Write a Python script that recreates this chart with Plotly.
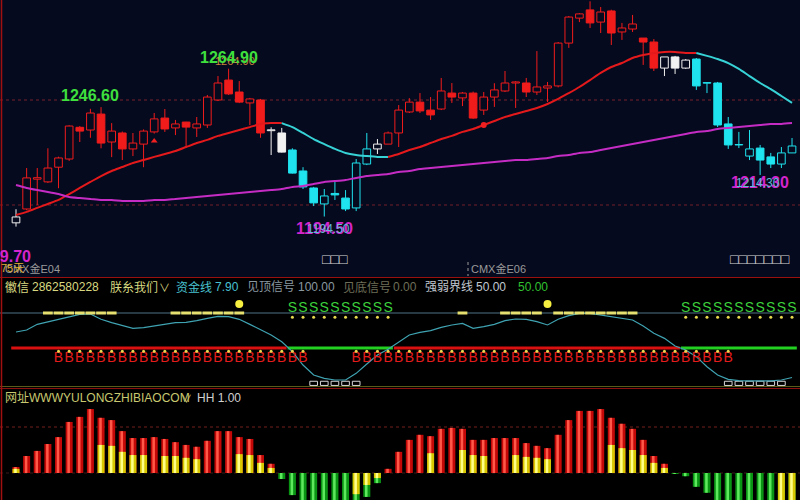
import plotly.graph_objects as go

# ---------------- daily bars ----------------
opens = [1191.5, 1198.1, 1212.3, 1211.0, 1218.0, 1221.9, 1237.0, 1235.7, 1243.3, 1230.0,
         1234.3, 1226.7, 1229.0, 1234.8, 1241.4, 1236.7, 1239.5, 1236.7, 1238.1, 1250.0,
         1259.5, 1253.8, 1248.6, 1250.0, 1235.4, 1234.3, 1226.2, 1216.2, 1208.1, 1200.5,
         1205.5, 1203.3, 1198.6, 1219.5, 1226.7, 1229.0, 1234.3, 1244.3, 1249.0, 1245.2,
         1245.7, 1253.3, 1251.0, 1253.3, 1245.2, 1251.4, 1254.3, 1258.1, 1258.1, 1253.8,
         1255.7, 1256.7, 1277.1, 1289.0, 1292.9, 1287.1, 1292.4, 1282.4, 1283.8, 1279.5,
         1277.6, 1265.2, 1270.5, 1265.2, 1269.5, 1258.0, 1258.1, 1238.6, 1228.6, 1223.3,
         1227.1, 1222.9, 1219.5, 1224.8]
highs = [1198.0, 1217.6, 1217.6, 1227.0, 1223.0, 1238.0, 1237.6, 1245.8, 1246.6, 1239.0,
         1235.0, 1234.3, 1236.0, 1243.8, 1245.7, 1240.5, 1239.6, 1241.9, 1252.4, 1261.4,
         1264.9, 1259.0, 1251.0, 1250.5, 1237.0, 1236.7, 1227.0, 1218.0, 1208.6, 1207.6,
         1211.0, 1207.1, 1221.9, 1234.3, 1231.4, 1235.0, 1247.6, 1250.9, 1253.3, 1251.4,
         1260.5, 1258.1, 1253.8, 1254.0, 1253.8, 1258.0, 1263.8, 1259.0, 1260.5, 1273.3,
         1258.6, 1277.6, 1290.0, 1291.4, 1297.0, 1294.3, 1293.0, 1286.7, 1290.5, 1279.5,
         1279.0, 1270.5, 1271.0, 1269.5, 1270.0, 1258.3, 1258.6, 1241.9, 1234.8, 1235.7,
         1228.6, 1224.8, 1227.6, 1231.9]
lows = [1189.7, 1197.5, 1200.0, 1210.5, 1208.0, 1221.0, 1230.0, 1232.0, 1227.0, 1222.8,
        1221.4, 1223.3, 1218.0, 1234.0, 1234.8, 1233.3, 1227.6, 1232.4, 1236.7, 1249.5,
        1252.4, 1248.5, 1238.0, 1232.0, 1223.8, 1225.0, 1215.0, 1207.6, 1199.5, 1194.5,
        1202.4, 1197.1, 1197.1, 1219.0, 1224.3, 1229.0, 1227.6, 1243.8, 1243.8, 1240.5,
        1245.2, 1248.6, 1247.1, 1241.0, 1242.9, 1246.7, 1253.8, 1246.2, 1251.4, 1252.4,
        1249.0, 1256.0, 1274.8, 1287.1, 1284.3, 1281.9, 1276.2, 1278.6, 1282.4, 1266.7,
        1263.8, 1261.4, 1262.4, 1264.8, 1254.8, 1253.3, 1237.1, 1226.7, 1227.1, 1221.4,
        1214.3, 1217.6, 1217.6, 1224.8]
closes = [1194.3, 1212.9, 1213.0, 1217.6, 1222.4, 1237.6, 1235.2, 1243.8, 1229.5, 1235.2,
          1226.7, 1229.5, 1235.2, 1241.0, 1236.2, 1238.6, 1237.1, 1238.6, 1251.4, 1258.1,
          1252.9, 1249.0, 1250.5, 1234.3, 1235.8, 1225.2, 1215.2, 1208.6, 1201.0, 1204.3,
          1204.8, 1198.1, 1220.0, 1226.7, 1229.0, 1234.3, 1245.2, 1249.0, 1244.8, 1242.9,
          1254.3, 1251.4, 1253.3, 1241.4, 1251.4, 1254.8, 1258.1, 1258.6, 1253.8, 1256.2,
          1256.7, 1277.1, 1289.5, 1291.0, 1286.7, 1291.9, 1281.9, 1284.3, 1286.2, 1277.6,
          1265.2, 1270.5, 1265.2, 1269.0, 1256.7, 1258.3, 1238.1, 1228.6, 1228.8, 1226.7,
          1221.4, 1219.5, 1224.8, 1228.1]
# bar colouring state: R = bull trend, W = neutral, C = bear trend
tones = ("W" "RRRRRRRRRRRRRRRRRRRRRRR" "WW" "CCCCCCCC" "W"
         "RRRRRRRRRRRRRRRRRRRRRRRRRR" "WWW" "CCCCCCCCCC")

ma_short = [1195.2, 1196.7, 1198.6, 1200.5, 1202.4, 1205.2, 1208.1, 1211.0, 1213.8, 1216.2,
            1218.1, 1220.0, 1221.4, 1222.9, 1224.3, 1225.7, 1227.6, 1229.5, 1231.0, 1232.9,
            1234.3, 1235.7, 1237.1, 1238.6, 1239.0, 1239.0, 1237.1, 1234.3, 1231.4, 1229.0,
            1226.7, 1224.8, 1223.8, 1223.3, 1222.9, 1222.9, 1224.3, 1226.2, 1227.6, 1229.5,
            1231.4, 1232.9, 1234.8, 1236.2, 1238.1, 1240.0, 1241.9, 1243.3, 1244.8, 1246.2,
            1248.1, 1250.5, 1253.3, 1256.2, 1259.5, 1262.9, 1265.7, 1267.6, 1270.0, 1271.4,
            1272.4, 1272.9, 1272.9, 1272.4, 1272.4, 1271.0, 1269.5, 1267.6, 1264.8, 1261.4,
            1258.1, 1255.2, 1251.9, 1248.6]
ma_short_up = ("1111111111111111111111111" "0000000000"
               "11111111111111111111111111111" "0000000000")
ma_long = [1209.5, 1208.1, 1207.1, 1206.2, 1205.2, 1203.8, 1203.3, 1202.9, 1202.4, 1202.4,
           1201.9, 1201.9, 1201.9, 1202.4, 1202.4, 1202.9, 1203.3, 1203.8, 1204.3, 1204.8,
           1205.2, 1205.7, 1206.2, 1206.7, 1207.1, 1207.6, 1208.6, 1209.0, 1210.0, 1211.0,
           1211.4, 1211.9, 1212.9, 1213.8, 1214.3, 1214.8, 1215.7, 1216.2, 1217.1, 1217.6,
           1218.1, 1218.6, 1219.0, 1219.5, 1220.0, 1220.5, 1221.0, 1221.4, 1221.4, 1221.9,
           1222.4, 1223.3, 1223.8, 1224.8, 1225.2, 1226.2, 1227.1, 1228.1, 1229.0, 1230.0,
           1231.0, 1231.9, 1232.9, 1233.8, 1234.8, 1235.2, 1236.2, 1236.7, 1237.1, 1237.6,
           1238.1, 1238.6, 1238.6, 1239.0]

# ---------------- money-flow panel ----------------
money_line = [72.9, 75.7, 83.8, 87.6, 91.4, 94.8, 98.1, 98.6, 91.0, 86.2,
              81.9, 78.1, 79.0, 81.4, 84.8, 86.2, 86.7, 89.0, 92.4, 95.2,
              94.8, 91.0, 83.8, 75.7, 68.6, 59.0, 44.8, 25.7, 11.4, 6.7,
              4.3, 4.3, 13.8, 27.1, 40.0, 48.1, 59.0, 68.6, 72.4, 74.8,
              79.5, 82.9, 85.2, 78.1, 80.5, 83.8, 89.0, 91.4, 91.0, 87.6,
              82.9, 91.0, 96.2, 99.5, 99.5, 97.1, 94.8, 92.4, 90.0, 81.4,
              71.0, 63.8, 52.9, 47.1, 37.6, 23.3, 11.4, 5.2, 3.3, 2.9,
              2.9, 2.9, 4.3, 7.9]
strong_flags = ("11111111111111111111111111" "0000000000"
                "111111111111111111111111111" "00000000000")
top_level, mid_level, bottom_level = 100.0, 50.0, 0.0
top_signal_idx = [3, 4, 5, 6, 7, 8, 9, 15, 16, 17, 18, 19, 20, 21, 42,
                  46, 47, 48, 49, 51, 52, 53, 54, 55, 56, 57, 58]
top_dot_idx = [21, 50]
sell_idx = [26, 27, 28, 29, 30, 31, 32, 33, 34, 35,
            63, 64, 65, 66, 67, 68, 69, 70, 71, 72, 73]
buy_idx = [4, 5, 6, 7, 8, 9, 10, 11, 12, 13, 14, 15, 16, 17, 18, 19, 20, 21, 22, 23, 24, 25, 26, 27,
           32, 33, 34, 35, 36, 37, 38, 39, 40, 41, 42, 43, 44, 45, 46, 47, 48, 49, 50, 51,
           52, 53, 54, 55, 56, 57, 58, 59, 60, 61, 62, 63, 64, 65, 66, 67]
bottom_idx = [28, 29, 30, 31, 32, 67, 68, 69, 70, 71, 72]

# ---------------- HH histogram ----------------
hh_ref = 1.0
hh = [0.13, 0.37, 0.48, 0.63, 0.78, 1.11, 1.22, 1.39, 1.20, 1.15,
      0.91, 0.76, 0.76, 0.78, 0.74, 0.67, 0.61, 0.57, 0.70, 0.91,
      0.91, 0.78, 0.74, 0.39, 0.20, -0.13, -0.48, -0.72, -0.80, -0.84,
      -0.82, -0.76, -0.66, -0.52, -0.22, 0.09, 0.46, 0.72, 0.83, 0.80,
      0.96, 0.98, 0.96, 0.72, 0.72, 0.76, 0.76, 0.76, 0.65, 0.59,
      0.54, 0.83, 1.15, 1.35, 1.35, 1.39, 1.20, 1.07, 0.96, 0.72,
      0.37, 0.20, -0.02, -0.07, -0.30, -0.43, -0.68, -0.75, -0.80, -0.82,
      -0.80, -0.76, -0.72, -0.70]
hh_yellow = [0.09, 0, 0, 0, 0, 0, 0, 0, 0.61, 0.59,
             0.46, 0.39, 0.39, 0, 0.37, 0.37, 0.33, 0.30, 0, 0,
             0, 0.41, 0.39, 0.22, 0.11, 0, 0, 0, 0, 0,
             0, 0, -0.46, -0.26, -0.11, 0, 0, 0, 0, 0.43,
             0, 0, 0.50, 0.39, 0.37, 0, 0, 0.39, 0.35, 0.33,
             0.30, 0, 0, 0, 0, 0, 0.61, 0.54, 0.50, 0.39,
             0.22, 0.11, 0, 0, 0, 0, 0, 0, 0, 0,
             0, 0, -0.70, -0.70]

# ---------------- styling ----------------
NAVY = "#060a1e"
TONE = {"R": "#f01c1c", "W": "#f2f2f2", "C": "#1fe3ee"}
UI_FONT = "Liberation Sans, Noto Sans CJK SC, sans-serif"
NUM_FONT = "Liberation Sans, Arial, sans-serif"
X_RANGE = [-1.505, 73.75]
W, H = 800, 500

idx = list(range(len(closes)))
fig = go.Figure()


def runs(flags):
    out, start = [], 0
    for i in range(1, len(flags) + 1):
        if i == len(flags) or flags[i] != flags[start]:
            out.append((flags[start], start, i - 1))
            start = i
    return out


# ---- candle wicks (drawn outside the bodies) ----
for tone, color in TONE.items():
    xs, ys = [], []
    for i, (o, h, l, c, t) in enumerate(zip(opens, highs, lows, closes, tones)):
        if t != tone:
            continue
        top, bot = max(o, c), min(o, c)
        xs += [i, i, None, i, i, None]
        ys += [h, top, None, bot, l, None]
    fig.add_trace(go.Scatter(x=xs, y=ys, mode="lines", line=dict(color=color, width=1),
                             xaxis="x", yaxis="y", hoverinfo="skip"))

# ---- candle bodies: rising bars hollow, falling bars solid ----
body_base = [min(o, c) for o, c in zip(opens, closes)]
body_len = [abs(c - o) for o, c in zip(opens, closes)]
body_fill = [NAVY if c >= o else TONE[t] for o, c, t in zip(opens, closes, tones)]
body_edge = [TONE[t] for t in tones]
fig.add_trace(go.Bar(x=idx, y=body_len, base=body_base, width=0.72,
                     marker=dict(color=body_fill, line=dict(color=body_edge, width=1)),
                     xaxis="x", yaxis="y", hoverinfo="skip"))

# ---- moving averages ----
for flag, s, e in runs(ma_short_up):
    e2 = min(e + 1, len(idx) - 1)
    fig.add_trace(go.Scatter(x=idx[s:e2 + 1], y=ma_short[s:e2 + 1], mode="lines",
                             line=dict(color="#e3191b" if flag == "1" else "#36d2d6", width=2,
                                       shape="spline", smoothing=0.6),
                             xaxis="x", yaxis="y", hoverinfo="skip"))
fig.add_trace(go.Scatter(x=idx, y=ma_long, mode="lines",
                         line=dict(color="#c42cc4", width=2, shape="spline", smoothing=0.6),
                         xaxis="x", yaxis="y", hoverinfo="skip"))
fig.add_trace(go.Scatter(x=[44], y=[ma_short[44]], mode="markers",
                         marker=dict(color="#f02020", size=6), xaxis="x", yaxis="y", hoverinfo="skip"))
fig.add_trace(go.Scatter(x=[13], y=[lows[13] - 3.5], mode="markers",
                         marker=dict(color="#f02020", size=6, symbol="triangle-up"),
                         xaxis="x", yaxis="y", hoverinfo="skip"))

# ---- money-flow panel ----
for flag, s, e in runs(strong_flags):
    fig.add_trace(go.Scatter(x=[s - 0.45, e + 0.45], y=[mid_level, mid_level], mode="lines",
                             line=dict(color="#d81010" if flag == "1" else "#22d022", width=3),
                             xaxis="x2", yaxis="y2", hoverinfo="skip"))
fig.add_trace(go.Bar(x=bottom_idx, y=[6] * len(bottom_idx), base=bottom_level - 3.5, width=0.72,
                     marker=dict(color="#000000", line=dict(color="#d8d8d8", width=1)),
                     xaxis="x2", yaxis="y2", hoverinfo="skip"))
fig.add_trace(go.Scatter(x=idx, y=money_line, mode="lines",
                         line=dict(color="#3fa3b2", width=1.2),
                         xaxis="x2", yaxis="y2", hoverinfo="skip"))
fig.add_trace(go.Scatter(x=top_signal_idx, y=[top_level] * len(top_signal_idx), mode="markers",
                         marker=dict(symbol="line-ew", size=7, line=dict(color="#e6e070", width=3)),
                         xaxis="x2", yaxis="y2", hoverinfo="skip"))
fig.add_trace(go.Scatter(x=top_dot_idx, y=[113] * len(top_dot_idx), mode="markers",
                         marker=dict(color="#f8f040", size=8),
                         xaxis="x2", yaxis="y2", hoverinfo="skip"))
fig.add_trace(go.Scatter(x=sell_idx, y=[106] * len(sell_idx), mode="text", text=["S"] * len(sell_idx),
                         textfont=dict(color="#3cd03c", size=14, family="Liberation Sans Narrow, Liberation Sans"),
                         xaxis="x2", yaxis="y2", hoverinfo="skip"))
fig.add_trace(go.Scatter(x=sell_idx, y=[94] * len(sell_idx), mode="markers",
                         marker=dict(color="#e8d850", size=3),
                         xaxis="x2", yaxis="y2", hoverinfo="skip"))
fig.add_trace(go.Scatter(x=buy_idx, y=[35] * len(buy_idx), mode="text", text=["B"] * len(buy_idx),
                         textfont=dict(color="#e41c1c", size=14, family="Liberation Sans Narrow, Liberation Sans"),
                         xaxis="x2", yaxis="y2", hoverinfo="skip"))
fig.add_trace(go.Scatter(x=buy_idx, y=[45.5] * len(buy_idx), mode="markers",
                         marker=dict(color="#e8d850", size=3),
                         xaxis="x2", yaxis="y2", hoverinfo="skip"))

# ---- HH histogram (cylinder look: base bar + narrow highlight) ----
def hist_layer(values, dark_pos, light_pos, dark_neg, light_neg):
    dark = [dark_pos if v >= 0 else dark_neg for v in values]
    light = [light_pos if v >= 0 else light_neg for v in values]
    fig.add_trace(go.Bar(x=idx, y=values, width=0.66, marker=dict(color=dark, line=dict(width=0)),
                         xaxis="x3", yaxis="y3", hoverinfo="skip"))
    fig.add_trace(go.Bar(x=idx, y=values, width=0.24, offset=-0.17,
                         marker=dict(color=light, line=dict(width=0)),
                         xaxis="x3", yaxis="y3", hoverinfo="skip"))


hist_layer(hh, "#c40808", "#ff5848", "#0a9414", "#5ee85e")
hist_layer(hh_yellow, "#d8c800", "#ffff8a", "#d8c800", "#ffff8a")

# ---- layout ----
fig.update_layout(
    width=W, height=H, margin=dict(l=0, r=0, t=0, b=0),
    paper_bgcolor="#000000", plot_bgcolor="#000000",
    showlegend=False, barmode="overlay",
    xaxis=dict(domain=[0, 1], range=X_RANGE, anchor="y", visible=False),
    yaxis=dict(domain=[1 - 277 / H, 1], range=[1165.71, 1297.62], anchor="x", visible=False),
    xaxis2=dict(domain=[0, 1], range=X_RANGE, anchor="y2", visible=False),
    yaxis2=dict(domain=[1 - 388 / H, 1 - 278 / H], range=[-7.14, 150], anchor="x2", visible=False),
    xaxis3=dict(domain=[0, 1], range=X_RANGE, anchor="y3", visible=False),
    yaxis3=dict(domain=[0, 1 - 388 / H], range=[-0.587, 1.848], anchor="x3", visible=False),
)

shapes = [
    dict(type="rect", xref="paper", yref="paper", x0=0, x1=1, y0=1 - 277 / H, y1=1,
         fillcolor=NAVY, line=dict(width=0), layer="below"),
    dict(type="line", xref="paper", yref="y", x0=0, x1=1, y0=1250, y1=1250,
         line=dict(color="#74202c", width=1, dash="dot"), layer="below"),
    dict(type="line", xref="paper", yref="y", x0=0, x1=1, y0=1200, y1=1200,
         line=dict(color="#74202c", width=1, dash="dot"), layer="below"),
    dict(type="line", xref="paper", yref="y2", x0=0, x1=1, y0=top_level, y1=top_level,
         line=dict(color="#4f7486", width=1), layer="below"),
    dict(type="line", xref="paper", yref="y3", x0=0, x1=1, y0=hh_ref, y1=hh_ref,
         line=dict(color="#74201f", width=1, dash="dot"), layer="below"),
    dict(type="line", xref="paper", yref="y3", x0=0, x1=1, y0=0, y1=0,
         line=dict(color="#3a1a1a", width=1, dash="dot"), layer="below"),
    dict(type="line", xref="paper", yref="paper", x0=0, x1=1, y0=1 - 277.5 / H, y1=1 - 277.5 / H,
         line=dict(color="#9a1010", width=1)),
    dict(type="line", xref="paper", yref="paper", x0=0, x1=1, y0=1 - 386.5 / H, y1=1 - 386.5 / H,
         line=dict(color="#5a5a1a", width=1)),
    dict(type="line", xref="paper", yref="paper", x0=0, x1=1, y0=1 - 388.5 / H, y1=1 - 388.5 / H,
         line=dict(color="#8a1010", width=1)),
    dict(type="line", xref="paper", yref="paper", x0=1.5 / W, x1=1.5 / W, y0=0, y1=1,
         line=dict(color="#a01010", width=1.5)),
    dict(type="line", xref="paper", yref="paper", x0=468 / W, x1=468 / W, y0=1 - 262 / H, y1=1 - 276 / H,
         line=dict(color="#9a9a9a", width=1, dash="dot")),
]
fig.update_layout(shapes=shapes)


def note(text, x_px, y_px, color, size=12, anchor="left", family=UI_FONT):
    fig.add_annotation(xref="paper", yref="paper", x=x_px / W, y=1 - y_px / H, text=text,
                       showarrow=False, xanchor=anchor, yanchor="middle", borderpad=0,
                       font=dict(color=color, size=size, family=family))


def price_note(i, value, color, yshift, xshift=0, size=16, bold=True, anchor="center"):
    label = f"{value:.2f}"
    fig.add_annotation(xref="x", yref="y", x=i, y=value, text=f"<b>{label}</b>" if bold else label,
                       showarrow=False, xanchor=anchor, yanchor="middle", xshift=xshift, yshift=yshift,
                       font=dict(color=color, size=size, family=NUM_FONT))


# swing-point labels (a faint echo of the same value sits under the main label)
price_note(20, highs[20], "#c8803c", yshift=8, xshift=6, size=11, bold=False)
price_note(8, highs[8], "#3ee03e", yshift=12, xshift=-11)
price_note(20, highs[20], "#3ee03e", yshift=11)
price_note(29, lows[29], "#d424cc", yshift=-12)
price_note(29, lows[29], "#62b8d8", yshift=-12, xshift=4, size=12, bold=False)
price_note(70, lows[70], "#d424cc", yshift=-8)
price_note(70, lows[70], "#62b8d8", yshift=-8, xshift=-2, size=12, bold=False)
price_note(0, lows[0], "#d424cc", yshift=-30, xshift=17, anchor="right")

# main panel footer
note("CMX金E04", 4, 268, "#9a9a9a", size=11)
note("75天", 0, 268, "#e0b030", size=11)
note("CMX金E06", 470, 268, "#9a9a9a", size=11)
note("□□□", 335, 259, "#d8d8d8", size=14, anchor="center")
note("□□□□□□□", 760, 259, "#d8d8d8", size=14, anchor="center")

# money-flow header
note("徽信", 4, 287, "#d8d880")
note("2862580228", 31, 287, "#d8d880")
note("朕糸我们", 109, 287, "#d8d880")
note("∨", 158, 288, "#d8d880", size=11)
note("资金线", 175, 287, "#48c0d0")
note(f"{money_line[-1]:.2f}", 214, 287, "#48c0d0")
note("见顶信号", 246, 287, "#8a98a0")
note(f"{top_level:.2f}", 297, 287, "#8a98a0")
note("见底信号", 342, 287, "#6e6e58")
note(f"{bottom_level:.2f}", 392, 287, "#6e6e58")
note("强弱界线", 424, 287, "#c0c8d0")
note(f"{mid_level:.2f}", 475, 287, "#c0c8d0")
note(f"{mid_level:.2f}", 517, 287, "#30c030")

# histogram header
note("网址WWWYULONGZHIBIAOCOM", 4, 398, "#c8c870")
note("∨", 180, 399, "#c8c870", size=11)
note(f"HH {hh_ref:.2f}", 196, 398, "#d0d0d0")

fig.write_html("out.html")
